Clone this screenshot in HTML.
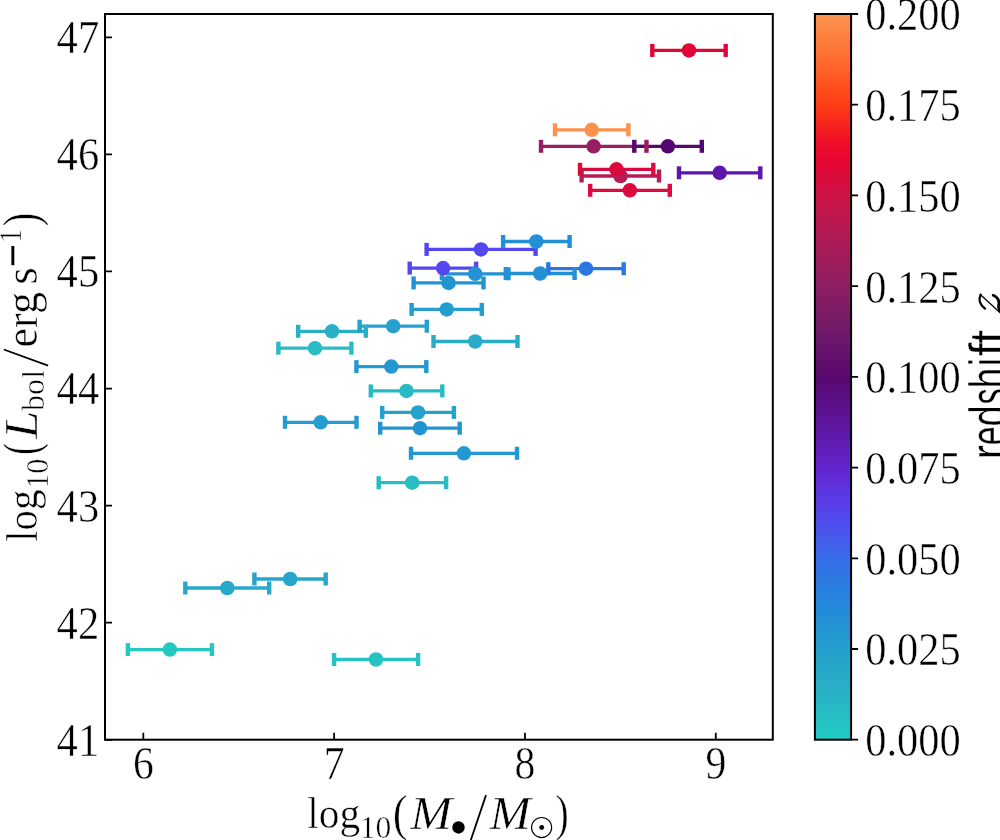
<!DOCTYPE html><html><head><meta charset="utf-8"><style>html,body{margin:0;padding:0;background:#fff;overflow:hidden}svg{display:block}.s{font-family:"Liberation Serif",serif}.i{font-style:italic}.a{font-family:"Liberation Sans",sans-serif}text{fill:#000;stroke:#fff;stroke-width:0.5px}svg{will-change:transform}</style></head><body>
<svg width="1000" height="840" viewBox="0 0 1000 840">
<rect width="1000" height="840" fill="#fff"/>
<defs><linearGradient id="cb" x1="0" y1="1" x2="0" y2="0">
<stop offset="0.0000" stop-color="#21cbc1"/>
<stop offset="0.0250" stop-color="#25c1c3"/>
<stop offset="0.0500" stop-color="#28b7c5"/>
<stop offset="0.0750" stop-color="#29aec7"/>
<stop offset="0.1000" stop-color="#26a7ca"/>
<stop offset="0.1250" stop-color="#249fcc"/>
<stop offset="0.1500" stop-color="#2395d2"/>
<stop offset="0.1750" stop-color="#228cd7"/>
<stop offset="0.2000" stop-color="#2682dd"/>
<stop offset="0.2250" stop-color="#2e77e2"/>
<stop offset="0.2500" stop-color="#366ce8"/>
<stop offset="0.2750" stop-color="#435cea"/>
<stop offset="0.3000" stop-color="#504ded"/>
<stop offset="0.3250" stop-color="#593ee8"/>
<stop offset="0.3500" stop-color="#5e31db"/>
<stop offset="0.3750" stop-color="#6424ce"/>
<stop offset="0.4000" stop-color="#621eba"/>
<stop offset="0.4250" stop-color="#5f17a6"/>
<stop offset="0.4500" stop-color="#5d1293"/>
<stop offset="0.4750" stop-color="#5a0d80"/>
<stop offset="0.5000" stop-color="#58086e"/>
<stop offset="0.5250" stop-color="#620f6c"/>
<stop offset="0.5500" stop-color="#6b166b"/>
<stop offset="0.5750" stop-color="#761b68"/>
<stop offset="0.6000" stop-color="#811c65"/>
<stop offset="0.6250" stop-color="#8c1e62"/>
<stop offset="0.6500" stop-color="#9a1d5e"/>
<stop offset="0.6750" stop-color="#a71c5a"/>
<stop offset="0.7000" stop-color="#b41a55"/>
<stop offset="0.7250" stop-color="#c1164e"/>
<stop offset="0.7500" stop-color="#ce1248"/>
<stop offset="0.7750" stop-color="#db0c3d"/>
<stop offset="0.8000" stop-color="#e80632"/>
<stop offset="0.8250" stop-color="#f10f27"/>
<stop offset="0.8500" stop-color="#f8261e"/>
<stop offset="0.8750" stop-color="#ff3e14"/>
<stop offset="0.9000" stop-color="#ff501e"/>
<stop offset="0.9250" stop-color="#ff6329"/>
<stop offset="0.9500" stop-color="#fe7435"/>
<stop offset="0.9750" stop-color="#fd8442"/>
<stop offset="1.0000" stop-color="#fc9450"/>
</linearGradient></defs>
<path d="M652.30 50.40H725.70" stroke="#e20636" stroke-width="3.30"/>
<path d="M555.00 129.80H628.40" stroke="#fc924c" stroke-width="3.30"/>
<path d="M541.00 146.30H646.50" stroke="#981e62" stroke-width="3.30"/>
<path d="M634.30 146.30H701.80" stroke="#560670" stroke-width="3.30"/>
<path d="M581.60 176.00H659.00" stroke="#b81c54" stroke-width="3.30"/>
<path d="M580.00 169.30H653.30" stroke="#da0a3c" stroke-width="3.30"/>
<path d="M679.00 172.80H760.30" stroke="#5e16aa" stroke-width="3.30"/>
<path d="M590.20 190.30H669.80" stroke="#dc0a3e" stroke-width="3.30"/>
<path d="M503.10 241.50H569.60" stroke="#228fd6" stroke-width="3.30"/>
<path d="M426.60 249.40H535.60" stroke="#5446f0" stroke-width="3.30"/>
<path d="M441.90 273.80H508.50" stroke="#2292d4" stroke-width="3.30"/>
<path d="M505.80 273.50H574.60" stroke="#2290d2" stroke-width="3.30"/>
<path d="M413.60 282.90H483.50" stroke="#2294d4" stroke-width="3.30"/>
<path d="M409.70 268.10H476.10" stroke="#5646f0" stroke-width="3.30"/>
<path d="M548.30 268.70H623.70" stroke="#2c76e2" stroke-width="3.30"/>
<path d="M411.60 309.40H481.80" stroke="#249ece" stroke-width="3.30"/>
<path d="M359.60 326.20H426.80" stroke="#26a0cc" stroke-width="3.30"/>
<path d="M298.20 331.30H365.80" stroke="#2aafc8" stroke-width="3.30"/>
<path d="M433.50 341.50H517.50" stroke="#2aacc8" stroke-width="3.30"/>
<path d="M278.40 348.20H351.40" stroke="#2abcc4" stroke-width="3.30"/>
<path d="M356.40 366.60H426.30" stroke="#2498d0" stroke-width="3.30"/>
<path d="M370.80 390.90H442.30" stroke="#28bac4" stroke-width="3.30"/>
<path d="M382.20 412.40H453.90" stroke="#24a2cc" stroke-width="3.30"/>
<path d="M285.00 422.30H356.50" stroke="#249cd0" stroke-width="3.30"/>
<path d="M380.20 428.20H459.70" stroke="#2295d0" stroke-width="3.30"/>
<path d="M411.00 453.30H517.00" stroke="#229ad0" stroke-width="3.30"/>
<path d="M378.70 482.70H446.10" stroke="#2abcc4" stroke-width="3.30"/>
<path d="M254.40 579.00H325.70" stroke="#26a6ca" stroke-width="3.30"/>
<path d="M185.30 588.00H269.20" stroke="#28a8ca" stroke-width="3.30"/>
<path d="M127.90 649.60H211.90" stroke="#24c8c0" stroke-width="3.30"/>
<path d="M334.10 659.50H418.10" stroke="#26c2c4" stroke-width="3.30"/>
<rect x="650.10" y="43.90" width="4.40" height="13.00" fill="#e20636"/>
<rect x="723.50" y="43.90" width="4.40" height="13.00" fill="#e20636"/>
<rect x="552.80" y="123.30" width="4.40" height="13.00" fill="#fc924c"/>
<rect x="626.20" y="123.30" width="4.40" height="13.00" fill="#fc924c"/>
<rect x="538.80" y="139.80" width="4.40" height="13.00" fill="#981e62"/>
<rect x="644.30" y="139.80" width="4.40" height="13.00" fill="#981e62"/>
<rect x="632.10" y="139.80" width="4.40" height="13.00" fill="#560670"/>
<rect x="699.60" y="139.80" width="4.40" height="13.00" fill="#560670"/>
<rect x="579.40" y="169.50" width="4.40" height="13.00" fill="#b81c54"/>
<rect x="656.80" y="169.50" width="4.40" height="13.00" fill="#b81c54"/>
<rect x="577.80" y="162.80" width="4.40" height="13.00" fill="#da0a3c"/>
<rect x="651.10" y="162.80" width="4.40" height="13.00" fill="#da0a3c"/>
<rect x="676.80" y="166.30" width="4.40" height="13.00" fill="#5e16aa"/>
<rect x="758.10" y="166.30" width="4.40" height="13.00" fill="#5e16aa"/>
<rect x="588.00" y="183.80" width="4.40" height="13.00" fill="#dc0a3e"/>
<rect x="667.60" y="183.80" width="4.40" height="13.00" fill="#dc0a3e"/>
<rect x="500.90" y="235.00" width="4.40" height="13.00" fill="#228fd6"/>
<rect x="567.40" y="235.00" width="4.40" height="13.00" fill="#228fd6"/>
<rect x="424.40" y="242.90" width="4.40" height="13.00" fill="#5446f0"/>
<rect x="533.40" y="242.90" width="4.40" height="13.00" fill="#5446f0"/>
<rect x="439.70" y="267.30" width="4.40" height="13.00" fill="#2292d4"/>
<rect x="506.30" y="267.30" width="4.40" height="13.00" fill="#2292d4"/>
<rect x="503.60" y="267.00" width="4.40" height="13.00" fill="#2290d2"/>
<rect x="572.40" y="267.00" width="4.40" height="13.00" fill="#2290d2"/>
<rect x="411.40" y="276.40" width="4.40" height="13.00" fill="#2294d4"/>
<rect x="481.30" y="276.40" width="4.40" height="13.00" fill="#2294d4"/>
<rect x="407.50" y="261.60" width="4.40" height="13.00" fill="#5646f0"/>
<rect x="473.90" y="261.60" width="4.40" height="13.00" fill="#5646f0"/>
<rect x="546.10" y="262.20" width="4.40" height="13.00" fill="#2c76e2"/>
<rect x="621.50" y="262.20" width="4.40" height="13.00" fill="#2c76e2"/>
<rect x="409.40" y="302.90" width="4.40" height="13.00" fill="#249ece"/>
<rect x="479.60" y="302.90" width="4.40" height="13.00" fill="#249ece"/>
<rect x="357.40" y="319.70" width="4.40" height="13.00" fill="#26a0cc"/>
<rect x="424.60" y="319.70" width="4.40" height="13.00" fill="#26a0cc"/>
<rect x="296.00" y="324.80" width="4.40" height="13.00" fill="#2aafc8"/>
<rect x="363.60" y="324.80" width="4.40" height="13.00" fill="#2aafc8"/>
<rect x="431.30" y="335.00" width="4.40" height="13.00" fill="#2aacc8"/>
<rect x="515.30" y="335.00" width="4.40" height="13.00" fill="#2aacc8"/>
<rect x="276.20" y="341.70" width="4.40" height="13.00" fill="#2abcc4"/>
<rect x="349.20" y="341.70" width="4.40" height="13.00" fill="#2abcc4"/>
<rect x="354.20" y="360.10" width="4.40" height="13.00" fill="#2498d0"/>
<rect x="424.10" y="360.10" width="4.40" height="13.00" fill="#2498d0"/>
<rect x="368.60" y="384.40" width="4.40" height="13.00" fill="#28bac4"/>
<rect x="440.10" y="384.40" width="4.40" height="13.00" fill="#28bac4"/>
<rect x="380.00" y="405.90" width="4.40" height="13.00" fill="#24a2cc"/>
<rect x="451.70" y="405.90" width="4.40" height="13.00" fill="#24a2cc"/>
<rect x="282.80" y="415.80" width="4.40" height="13.00" fill="#249cd0"/>
<rect x="354.30" y="415.80" width="4.40" height="13.00" fill="#249cd0"/>
<rect x="378.00" y="421.70" width="4.40" height="13.00" fill="#2295d0"/>
<rect x="457.50" y="421.70" width="4.40" height="13.00" fill="#2295d0"/>
<rect x="408.80" y="446.80" width="4.40" height="13.00" fill="#229ad0"/>
<rect x="514.80" y="446.80" width="4.40" height="13.00" fill="#229ad0"/>
<rect x="376.50" y="476.20" width="4.40" height="13.00" fill="#2abcc4"/>
<rect x="443.90" y="476.20" width="4.40" height="13.00" fill="#2abcc4"/>
<rect x="252.20" y="572.50" width="4.40" height="13.00" fill="#26a6ca"/>
<rect x="323.50" y="572.50" width="4.40" height="13.00" fill="#26a6ca"/>
<rect x="183.10" y="581.50" width="4.40" height="13.00" fill="#28a8ca"/>
<rect x="267.00" y="581.50" width="4.40" height="13.00" fill="#28a8ca"/>
<rect x="125.70" y="643.10" width="4.40" height="13.00" fill="#24c8c0"/>
<rect x="209.70" y="643.10" width="4.40" height="13.00" fill="#24c8c0"/>
<rect x="331.90" y="653.00" width="4.40" height="13.00" fill="#26c2c4"/>
<rect x="415.90" y="653.00" width="4.40" height="13.00" fill="#26c2c4"/>
<circle cx="689.00" cy="50.40" r="7.25" fill="#e20636"/>
<circle cx="591.70" cy="129.80" r="7.25" fill="#fc924c"/>
<circle cx="593.60" cy="146.30" r="7.25" fill="#981e62"/>
<circle cx="667.90" cy="146.30" r="7.25" fill="#560670"/>
<circle cx="620.50" cy="176.00" r="7.25" fill="#b81c54"/>
<circle cx="616.50" cy="169.30" r="7.25" fill="#da0a3c"/>
<circle cx="719.70" cy="172.80" r="7.25" fill="#5e16aa"/>
<circle cx="629.90" cy="190.30" r="7.25" fill="#dc0a3e"/>
<circle cx="536.30" cy="241.50" r="7.25" fill="#228fd6"/>
<circle cx="481.00" cy="249.40" r="7.25" fill="#5446f0"/>
<circle cx="475.20" cy="273.80" r="7.25" fill="#2292d4"/>
<circle cx="540.20" cy="273.50" r="7.25" fill="#2290d2"/>
<circle cx="448.60" cy="282.90" r="7.25" fill="#2294d4"/>
<circle cx="443.10" cy="268.10" r="7.25" fill="#5646f0"/>
<circle cx="586.00" cy="268.70" r="7.25" fill="#2c76e2"/>
<circle cx="446.70" cy="309.40" r="7.25" fill="#249ece"/>
<circle cx="393.20" cy="326.20" r="7.25" fill="#26a0cc"/>
<circle cx="332.00" cy="331.30" r="7.25" fill="#2aafc8"/>
<circle cx="475.20" cy="341.50" r="7.25" fill="#2aacc8"/>
<circle cx="315.00" cy="348.20" r="7.25" fill="#2abcc4"/>
<circle cx="391.30" cy="366.60" r="7.25" fill="#2498d0"/>
<circle cx="406.50" cy="390.90" r="7.25" fill="#28bac4"/>
<circle cx="418.00" cy="412.40" r="7.25" fill="#24a2cc"/>
<circle cx="320.70" cy="422.30" r="7.25" fill="#249cd0"/>
<circle cx="420.00" cy="428.20" r="7.25" fill="#2295d0"/>
<circle cx="463.90" cy="453.30" r="7.25" fill="#229ad0"/>
<circle cx="412.20" cy="482.70" r="7.25" fill="#2abcc4"/>
<circle cx="290.20" cy="579.00" r="7.25" fill="#26a6ca"/>
<circle cx="227.30" cy="588.00" r="7.25" fill="#28a8ca"/>
<circle cx="169.90" cy="649.60" r="7.25" fill="#24c8c0"/>
<circle cx="376.00" cy="659.50" r="7.25" fill="#26c2c4"/>
<rect x="105.00" y="14.00" width="667.80" height="725.70" fill="none" stroke="#000" stroke-width="2"/>
<path d="M143.30 739.70V732.70M334.13 739.70V732.70M524.96 739.70V732.70M715.79 739.70V732.70M105.00 739.78H112.00M105.00 622.70H112.00M105.00 505.62H112.00M105.00 388.54H112.00M105.00 271.46H112.00M105.00 154.38H112.00M105.00 37.30H112.00" stroke="#000" stroke-width="1.8"/>
<text class="s" transform="translate(143.30 778.50) scale(0.900 1)" font-size="46.30" text-anchor="middle">6</text>
<text class="s" transform="translate(334.13 778.50) scale(0.900 1)" font-size="46.30" text-anchor="middle">7</text>
<text class="s" transform="translate(524.96 778.50) scale(0.900 1)" font-size="46.30" text-anchor="middle">8</text>
<text class="s" transform="translate(715.79 778.50) scale(0.900 1)" font-size="46.30" text-anchor="middle">9</text>
<text class="s" transform="translate(99.20 755.68) scale(0.920 1)" font-size="46.30" text-anchor="end">41</text>
<text class="s" transform="translate(99.20 638.60) scale(0.920 1)" font-size="46.30" text-anchor="end">42</text>
<text class="s" transform="translate(99.20 521.52) scale(0.920 1)" font-size="46.30" text-anchor="end">43</text>
<text class="s" transform="translate(99.20 404.44) scale(0.920 1)" font-size="46.30" text-anchor="end">44</text>
<text class="s" transform="translate(99.20 287.36) scale(0.920 1)" font-size="46.30" text-anchor="end">45</text>
<text class="s" transform="translate(99.20 170.28) scale(0.920 1)" font-size="46.30" text-anchor="end">46</text>
<text class="s" transform="translate(99.20 53.20) scale(0.920 1)" font-size="46.30" text-anchor="end">47</text>
<rect x="814.90" y="14.00" width="36.20" height="725.70" fill="url(#cb)"/>
<rect x="814.90" y="14.00" width="36.20" height="725.70" fill="none" stroke="#000" stroke-width="2"/>
<path d="M851.10 739.70H858.10M851.10 648.99H858.10M851.10 558.28H858.10M851.10 467.56H858.10M851.10 376.85H858.10M851.10 286.14H858.10M851.10 195.42H858.10M851.10 104.71H858.10M851.10 14.00H858.10" stroke="#000" stroke-width="1.8"/>
<text class="s" transform="translate(865.20 756.10) scale(0.932 1)" font-size="45.60">0.000</text>
<text class="s" transform="translate(865.20 665.39) scale(0.932 1)" font-size="45.60">0.025</text>
<text class="s" transform="translate(865.20 574.68) scale(0.932 1)" font-size="45.60">0.050</text>
<text class="s" transform="translate(865.20 483.96) scale(0.932 1)" font-size="45.60">0.075</text>
<text class="s" transform="translate(865.20 393.25) scale(0.932 1)" font-size="45.60">0.100</text>
<text class="s" transform="translate(865.20 302.54) scale(0.932 1)" font-size="45.60">0.125</text>
<text class="s" transform="translate(865.20 211.82) scale(0.932 1)" font-size="45.60">0.150</text>
<text class="s" transform="translate(865.20 121.11) scale(0.932 1)" font-size="45.60">0.175</text>
<text class="s" transform="translate(865.20 30.40) scale(0.932 1)" font-size="45.60">0.200</text>
<text class="s" transform="translate(307.37 828.04) scale(0.9508 1)" font-size="43.52">log</text>
<text class="s" transform="translate(359.64 838.35) scale(1.0208 1)" font-size="30.90">10</text>
<text class="s" transform="translate(392.79 829.55) scale(0.8941 1)" font-size="50.00">(</text>
<text class="s i" transform="translate(410.42 828.70) scale(1.0644 1)" font-size="46.87">M</text>
<circle cx="458.5" cy="827.45" r="6.2" fill="#000"/>
<path d="M486.0 795.1L470.5 841" stroke="#000" stroke-width="1.8"/>
<text class="s i" transform="translate(489.82 828.70) scale(1.0432 1)" font-size="47.18">M</text>
<circle cx="541.6" cy="827.5" r="10.05" fill="none" stroke="#000" stroke-width="1.15"/><circle cx="541.7" cy="827.5" r="2.4" fill="#000"/>
<text class="s" transform="translate(555.51 829.85) scale(0.7922 1)" font-size="50.00">)</text>
<text class="s" transform="translate(37.06 541.82) rotate(-90) scale(0.9102 1)" font-size="44.84">log</text>
<text class="s" transform="translate(47.80 488.84) rotate(-90) scale(0.9578 1)" font-size="31.50">10</text>
<text class="s" transform="translate(38.08 454.77) rotate(-90) scale(0.6916 1)" font-size="50.47">(</text>
<text class="s i" transform="translate(36.92 438.87) rotate(-90) scale(1.0675 1)" font-size="47.20">L</text>
<text class="s" transform="translate(43.98 411.00) rotate(-90) scale(1.0137 1)" font-size="31.77">bol</text>
<path d="M3.8 349.5L48.1 365.7" stroke="#000" stroke-width="1.8"/>
<text class="s" transform="translate(37.30 347.46) rotate(-90) scale(0.9670 1)" font-size="45.50">erg</text>
<text class="s" transform="translate(37.30 284.70) rotate(-90) scale(0.9916 1)" font-size="45.50">s</text>
<rect x="11.4" y="246" width="2.9" height="19.2" fill="#000"/>
<text class="s" transform="translate(20.96 243.31) rotate(-90) scale(0.9609 1)" font-size="31.00">1</text>
<text class="s" transform="translate(37.99 226.33) rotate(-90) scale(0.8169 1)" font-size="49.92">)</text>
<text class="a" transform="translate(1008.20 459.54) rotate(-90) scale(0.7884 1)" font-size="55.30">r</text>
<text class="a" transform="translate(1008.20 445.25) rotate(-90) scale(0.6156 1)" font-size="55.30">e</text>
<text class="a" transform="translate(1008.20 426.62) rotate(-90) scale(0.6872 1)" font-size="55.30">d</text>
<text class="a" transform="translate(1008.20 404.40) rotate(-90) scale(0.5911 1)" font-size="55.30">s</text>
<text class="a" transform="translate(1008.20 388.18) rotate(-90) scale(0.6674 1)" font-size="55.30">h</text>
<text class="a" transform="translate(1008.20 366.22) rotate(-90) scale(0.7027 1)" font-size="55.30">i</text>
<text class="a" transform="translate(1008.20 356.45) rotate(-90) scale(0.9076 1)" font-size="55.30">f</text>
<text class="a" transform="translate(1008.20 343.86) rotate(-90) scale(0.9148 1)" font-size="55.30">t</text>
<path d="M980.6 294.8Q977.0 302.5 985.0 308.6" stroke="#000" stroke-width="2.3" fill="none" stroke-linecap="round"/>
<path d="M980.0 294.2L1001 313.6" stroke="#000" stroke-width="1.3"/>
<path d="M993.2 295.2Q1000.2 298.2 998.6 305.5Q998.0 309.5 1001 312" stroke="#000" stroke-width="2.7" fill="none" stroke-linecap="round"/>
</svg></body></html>
